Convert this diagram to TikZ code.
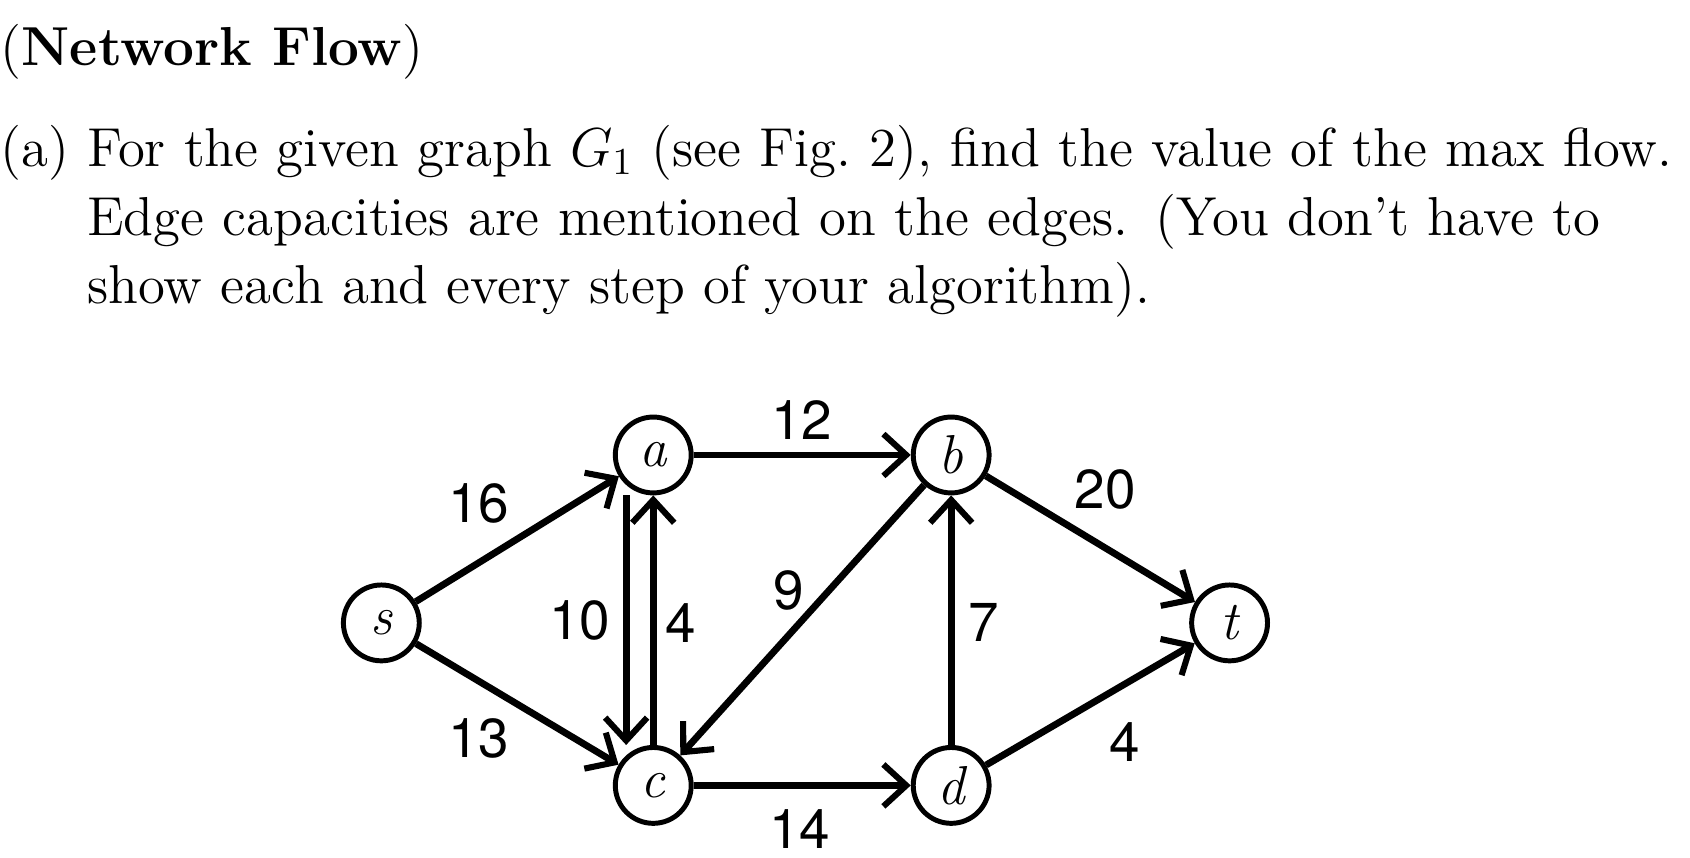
\documentclass[tikz,border=0pt]{standalone}
\usepackage{fontspec}
\newfontfamily\lblfont{TeX Gyre Heros}
\usetikzlibrary{arrows.meta}
\begin{document}
\begin{tikzpicture}[x=0.01cm,y=-0.01cm,
  vtx/.style={circle,draw,line width=1.3pt,minimum size=0.7cm,inner sep=0pt,font=\Large\itshape},
  edge/.style={line width=1.8pt,-{Straight Barb[length=6pt,width=11pt,line width=1.6pt]}},
  capl/.style={font=\lblfont\Large}]
\useasboundingbox (0,0) rectangle (1560,792);
\node[anchor=west,font=\Large,inner sep=0pt] (title) at (0,48) {(\textbf{Network Flow})};
\node[anchor=north west,font=\Large,inner sep=0pt] (qa) at (0,115) {(a)};
\node[anchor=north west,font=\Large,text width=14.85cm,inner sep=0pt,align=left] (q) at (80,115)
 {For the given graph $G_1$ (see Fig.~2), find the value of the max flow. Edge capacities are mentioned on the edges. (You don't have to show each and every step of your algorithm).};
\node[vtx] (s) at (352,575) {s};
\node[vtx] (a) at (603,420) {a};
\node[vtx] (b) at (878,420) {b};
\node[vtx] (c) at (603,725) {c};
\node[vtx] (d) at (878,725) {d};
\node[vtx] (t) at (1135,575) {t};
\draw[edge] (s) -- (a);
\draw[edge] (s) -- (c);
\draw[edge] (a) -- (b);
\draw[edge] ([xshift=-0.25cm]a.south) -- ([xshift=-0.25cm]c.north);
\draw[edge] (c.north) -- (a.south);
\draw[edge] (b) -- (c);
\draw[edge] (c) -- (d);
\draw[edge] (d) -- (b);
\draw[edge] (b) -- (t);
\draw[edge] (d) -- (t);
\node[capl] (l12) at (740,388) {12};
\node[capl] (l16) at (442,465) {16};
\node[capl] (l20) at (1020,452) {20};
\node[capl] (l9) at (728,545) {9};
\node[capl] (l10) at (535,573) {10};
\node[capl] (l4a) at (628,575) {4};
\node[capl] (l7) at (908,575) {7};
\node[capl] (l13) at (442,682) {13};
\node[capl] (l4b) at (1038,685) {4};
\node[capl] (l14) at (738,765) {14};
\end{tikzpicture}
\end{document}
